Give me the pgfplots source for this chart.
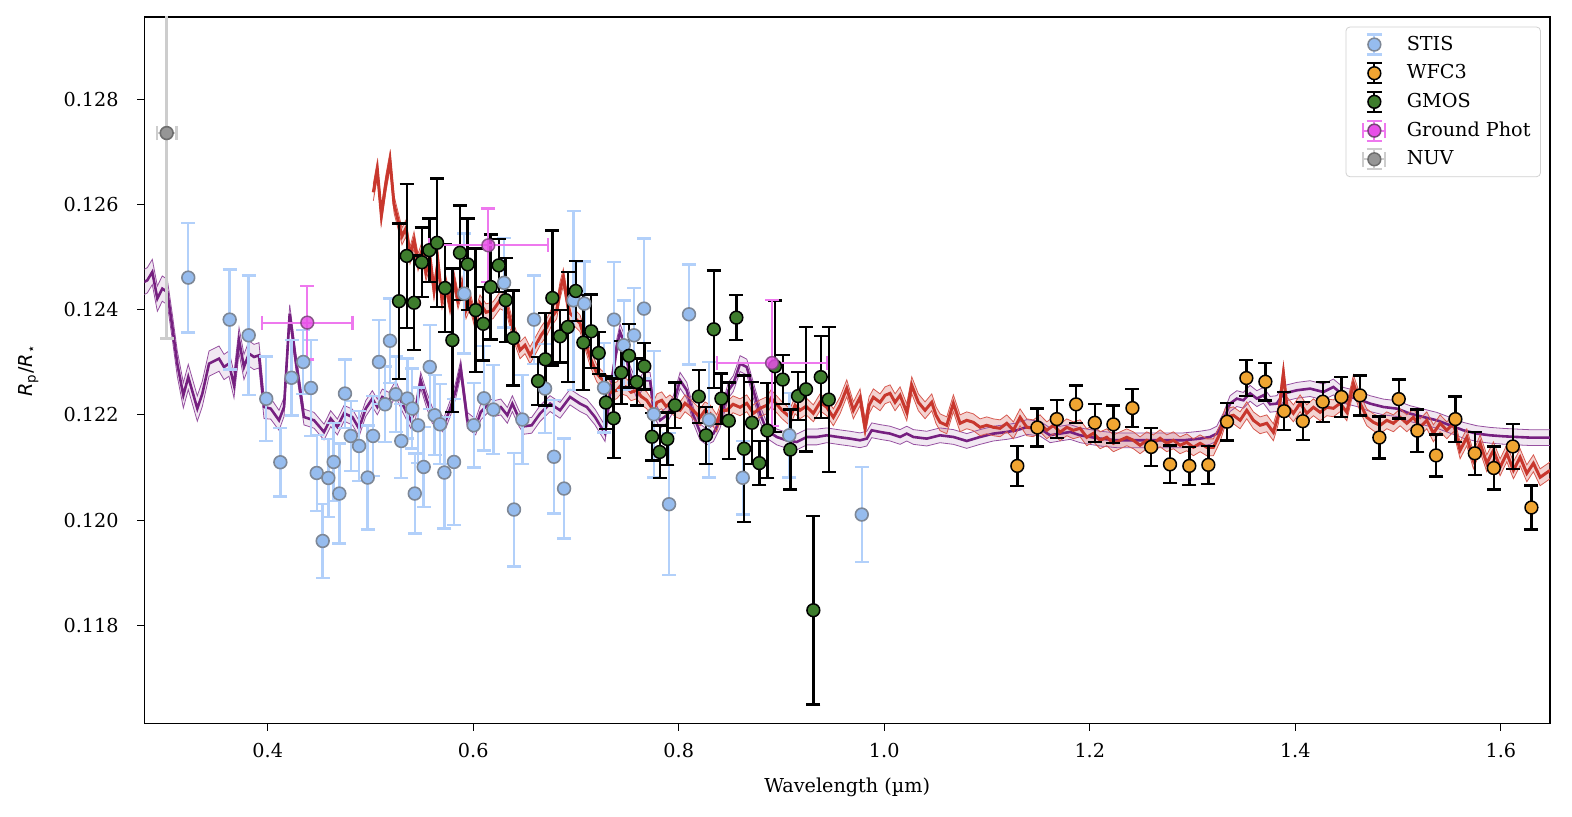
\documentclass[border=0pt]{standalone}
\usepackage{pgfplots}
\pgfplotsset{compat=1.18}
\usepackage{pgfplotstable}
\usepgfplotslibrary{fillbetween}
\usepackage{fontspec}
\setmainfont{DejaVu Serif}
\newfontfamily\dvsans{DejaVu Sans}

\definecolor{stisfill}{RGB}{150,188,238}
\definecolor{stisedge}{RGB}{125,135,150}
\definecolor{stisbar}{RGB}{178,208,250}
\definecolor{wfcfill}{RGB}{240,165,50}
\definecolor{gmosfill}{RGB}{62,125,45}
\definecolor{gpfill}{RGB}{232,80,232}
\definecolor{gpbar}{RGB}{238,120,238}
\definecolor{gpedge}{RGB}{120,70,120}
\definecolor{nuvfill}{RGB}{150,150,150}
\definecolor{nuvbar}{RGB}{205,205,205}
\definecolor{nuvedge}{RGB}{110,110,110}
\definecolor{purp}{RGB}{118,32,128}
\definecolor{purpedge}{RGB}{150,80,160}
\definecolor{redm}{RGB}{200,55,45}
\definecolor{rededge}{RGB}{215,90,80}

\pgfplotsset{
  errlegend/.style n args={3}{legend image code/.code={
    \path (0pt,0pt) (25pt,0pt);
    \draw[#2, line width=1.1pt] (11pt,-5pt) -- (11pt,5pt) (7.3pt,-5pt) -- (14.7pt,-5pt) (7.3pt,5pt) -- (14.7pt,5pt);
    \draw[#3, fill=#1, line width=0.75pt] (11pt,0pt) circle (3.2pt);
  }},
  errlegendx/.style n args={3}{legend image code/.code={
    \path (0pt,0pt) (25pt,0pt);
    \draw[#2, line width=1.1pt] (11pt,-5pt) -- (11pt,5pt) (7.3pt,-5pt) -- (14.7pt,-5pt) (7.3pt,5pt) -- (14.7pt,5pt)
      (5.5pt,0pt) -- (16.5pt,0pt) (5.5pt,-3.7pt) -- (5.5pt,3.7pt) (16.5pt,-3.7pt) -- (16.5pt,3.7pt);
    \draw[#3, fill=#1, line width=0.75pt] (11pt,0pt) circle (3.2pt);
  }},
}

\pgfplotstableread{
x y e
0.3227 0.124608 0.00104
0.3630 0.123810 0.00095
0.3815 0.123512 0.00114
0.3986 0.122306 0.00080
0.4123 0.121100 0.00065
0.4232 0.122705 0.00072
0.4346 0.123005 0.00061
0.4421 0.122511 0.00091
0.4477 0.120896 0.00072
0.4535 0.119604 0.00070
0.4590 0.120801 0.00074
0.4642 0.121105 0.00074
0.4697 0.120505 0.00095
0.4752 0.122405 0.00065
0.4808 0.121599 0.00066
0.4889 0.121409 0.00066
0.4973 0.120809 0.00099
0.5025 0.121599 0.00076
0.5083 0.123005 0.00080
0.5142 0.122201 0.00072
0.5190 0.123408 0.00080
0.5246 0.122391 0.00072
0.5300 0.121504 0.00070
0.5359 0.122310 0.00076
0.5407 0.122120 0.00076
0.5431 0.120505 0.00076
0.5463 0.121802 0.00072
0.5518 0.121010 0.00076
0.5577 0.122910 0.00080
0.5625 0.121992 0.00076
0.5677 0.121821 0.00076
0.5719 0.120904 0.00106
0.5813 0.121105 0.00120
0.5913 0.124304 0.00114
0.6005 0.121802 0.00080
0.6105 0.122315 0.00099
0.6196 0.122101 0.00085
0.6300 0.124509 0.00085
0.6397 0.120201 0.00108
0.6478 0.121911 0.00085
0.6592 0.123810 0.00084
0.6699 0.122500 0.00085
0.6786 0.121204 0.00108
0.6884 0.120600 0.00095
0.6976 0.124177 0.00170
0.7081 0.124114 0.00080
0.7273 0.122515 0.00085
0.7370 0.123810 0.00110
0.7465 0.123322 0.00085
0.7565 0.123512 0.00090
0.7662 0.124019 0.00133
0.7757 0.122011 0.00120
0.7906 0.120302 0.00135
0.8100 0.123911 0.00095
0.8295 0.121907 0.00110
0.8623 0.120805 0.00070
0.9076 0.121612 0.00080
0.9781 0.120106 0.00090
}\stis

\pgfplotstableread{
x y e
1.1295 0.12103 0.00038
1.1490 0.12176 0.00036
1.1679 0.12192 0.00036
1.1867 0.12220 0.00036
1.2049 0.12185 0.00036
1.2230 0.12182 0.00036
1.2415 0.12213 0.00036
1.2597 0.12139 0.00036
1.2781 0.12106 0.00036
1.2969 0.12103 0.00036
1.3154 0.12105 0.00036
1.3336 0.12187 0.00036
1.3524 0.12270 0.00034
1.3709 0.12263 0.00036
1.3891 0.12207 0.00036
1.4073 0.12188 0.00036
1.4267 0.12225 0.00038
1.4449 0.12234 0.00038
1.4630 0.12237 0.00038
1.4818 0.12157 0.00040
1.5007 0.12230 0.00037
1.5188 0.12170 0.00040
1.5370 0.12123 0.00040
1.5558 0.12192 0.00043
1.5747 0.12127 0.00041
1.5932 0.12099 0.00041
1.6117 0.12140 0.00043
1.6298 0.12024 0.00042
}\wfc

\pgfplotstableread{
x y e
0.5278 0.12416 0.00148
0.5353 0.12502 0.00137
0.5424 0.12413 0.00090
0.5499 0.12490 0.00066
0.5573 0.12513 0.00060
0.5648 0.12527 0.00122
0.5726 0.12441 0.00084
0.5797 0.12342 0.00136
0.5871 0.12508 0.00090
0.5946 0.12486 0.00087
0.6024 0.12399 0.00117
0.6098 0.12373 0.00070
0.6170 0.12443 0.00100
0.6248 0.12484 0.00050
0.6316 0.12418 0.00080
0.6390 0.12346 0.00090
0.6631 0.122644 0.00046
0.6702 0.123056 0.00088
0.6770 0.124221 0.00128
0.6845 0.123493 0.00050
0.6920 0.123670 0.00105
0.6998 0.124354 0.00057
0.7072 0.123373 0.00090
0.7149 0.123588 0.00070
0.7221 0.123176 0.00040
0.7292 0.122234 0.00050
0.7367 0.121935 0.00076
0.7441 0.122804 0.00060
0.7516 0.123123 0.00060
0.7591 0.122625 0.00045
0.7665 0.122923 0.00044
0.7740 0.121584 0.00045
0.7815 0.121295 0.00050
0.7889 0.121542 0.00050
0.7964 0.122182 0.00043
0.8195 0.122348 0.00050
0.8266 0.121612 0.00054
0.8341 0.123626 0.00112
0.8415 0.122310 0.00048
0.8487 0.121888 0.00073
0.8561 0.123848 0.00043
0.8636 0.121356 0.00139
0.8713 0.121850 0.00078
0.8784 0.121084 0.00042
0.8862 0.121704 0.00090
0.8937 0.122923 0.00125
0.9012 0.122671 0.00047
0.9086 0.121341 0.00076
0.9161 0.122357 0.00046
0.9239 0.122486 0.00118
0.9310 0.118288 0.00179
0.9382 0.122718 0.00078
0.9460 0.122291 0.00138
}\gmos

\pgfplotstableread{
x y xe ye
0.4385 0.123753 0.0440 0.00070
0.6147 0.125222 0.0580 0.00070
0.8908 0.122986 0.0535 0.00120
}\ground

\pgfplotstableread{
x y xe ye
0.3017 0.127355 0.0094 0.0039
}\nuv

\pgfplotstableread{
x y e
0.2796 0.124525 0.00024
0.2828 0.124557 0.00024
0.2877 0.124715 0.00024
0.2926 0.124209 0.00024
0.2974 0.124399 0.00024
0.3023 0.124335 0.00024
0.3072 0.123670 0.00024
0.3120 0.122974 0.00024
0.3179 0.122372 0.00024
0.3227 0.122720 0.00024
0.3315 0.122119 0.00024
0.3364 0.122404 0.00024
0.3429 0.122974 0.00024
0.3526 0.123069 0.00024
0.3575 0.122910 0.00024
0.3623 0.122974 0.00024
0.3672 0.122562 0.00024
0.3721 0.123417 0.00024
0.3769 0.122910 0.00024
0.3818 0.123164 0.00024
0.3867 0.123100 0.00024
0.3915 0.123132 0.00024
0.3964 0.122150 0.00022
0.4029 0.122119 0.00020
0.4110 0.121897 0.00019
0.4159 0.122150 0.00018
0.4214 0.123923 0.00017
0.4273 0.123036 0.00016
0.4353 0.121959 0.00015
0.4451 0.121897 0.00015
0.4548 0.121674 0.00015
0.4613 0.121929 0.00015
0.4678 0.121770 0.00015
0.4743 0.122030 0.00015
0.4824 0.121959 0.00015
0.4889 0.121739 0.00015
0.4954 0.122119 0.00015
0.5018 0.122309 0.00015
0.5067 0.122150 0.00015
0.5115 0.122340 0.00015
0.5180 0.122277 0.00015
0.5246 0.122499 0.00015
0.5310 0.122214 0.00015
0.5392 0.121897 0.00015
0.5440 0.122087 0.00015
0.5489 0.122657 0.00015
0.5548 0.122277 0.00015
0.5602 0.121992 0.00015
0.5667 0.121897 0.00015
0.5716 0.121802 0.00015
0.5781 0.122150 0.00015
0.5830 0.122467 0.00015
0.5878 0.122885 0.00015
0.5943 0.121897 0.00015
0.6024 0.121770 0.00015
0.6073 0.122055 0.00015
0.6137 0.122182 0.00015
0.6203 0.122119 0.00015
0.6268 0.122150 0.00015
0.6332 0.121992 0.00015
0.6381 0.122214 0.00015
0.6446 0.121929 0.00015
0.6495 0.121783 0.00015
0.6569 0.121802 0.00015
0.6650 0.122024 0.00015
0.6748 0.122214 0.00015
0.6845 0.122087 0.00015
0.6942 0.122340 0.00015
0.7039 0.122214 0.00015
0.7105 0.122150 0.00015
0.7185 0.121959 0.00015
0.7283 0.121644 0.00015
0.7331 0.122404 0.00015
0.7397 0.123290 0.00015
0.7429 0.123575 0.00015
0.7461 0.123417 0.00015
0.7526 0.122784 0.00015
0.7592 0.122467 0.00015
0.7656 0.122657 0.00015
0.7721 0.122657 0.00015
0.7753 0.122150 0.00015
0.7818 0.121897 0.00015
0.7883 0.121992 0.00015
0.7948 0.122214 0.00015
0.8013 0.122657 0.00015
0.8078 0.122467 0.00015
0.8142 0.121992 0.00015
0.8207 0.121675 0.00015
0.8273 0.121580 0.00015
0.8337 0.121644 0.00015
0.8402 0.121897 0.00015
0.8483 0.122467 0.00015
0.8531 0.122594 0.00015
0.8597 0.122974 0.00015
0.8662 0.122910 0.00015
0.8726 0.122467 0.00015
0.8791 0.122024 0.00015
0.8856 0.121707 0.00015
0.8954 0.121580 0.00015
0.9051 0.121517 0.00015
0.9148 0.121485 0.00015
0.9246 0.121580 0.00015
0.9343 0.121580 0.00015
0.9440 0.121612 0.00014
0.9570 0.121574 0.00014
0.9667 0.121549 0.00014
0.9764 0.121517 0.00014
0.9830 0.121549 0.00014
0.9878 0.121707 0.00014
0.9959 0.121675 0.00014
1.0057 0.121644 0.00014
1.0154 0.121580 0.00014
1.0219 0.121644 0.00014
1.0283 0.121580 0.00014
1.0413 0.121549 0.00014
1.0543 0.121612 0.00014
1.0673 0.121580 0.00014
1.0803 0.121504 0.00014
1.0932 0.121580 0.00014
1.1062 0.121644 0.00014
1.1192 0.121675 0.00014
1.1289 0.121707 0.00014
1.1387 0.121770 0.00014
1.1516 0.121739 0.00014
1.1614 0.121612 0.00014
1.1711 0.121644 0.00014
1.1808 0.121675 0.00014
1.1906 0.121612 0.00014
1.2003 0.121580 0.00014
1.2100 0.121549 0.00014
1.2263 0.121517 0.00014
1.2424 0.121517 0.00014
1.2587 0.121517 0.00014
1.2749 0.121517 0.00014
1.2911 0.121517 0.00014
1.3073 0.121549 0.00014
1.3171 0.121580 0.00014
1.3236 0.121644 0.00014
1.3301 0.121897 0.00014
1.3365 0.122214 0.00015
1.3431 0.122309 0.00015
1.3495 0.122277 0.00015
1.3560 0.122410 0.00015
1.3626 0.122309 0.00015
1.3690 0.122372 0.00015
1.3755 0.122201 0.00015
1.3820 0.122214 0.00015
1.3885 0.122404 0.00015
1.4015 0.122467 0.00015
1.4144 0.122499 0.00015
1.4274 0.122435 0.00015
1.4371 0.122530 0.00015
1.4468 0.122372 0.00015
1.4599 0.122309 0.00015
1.4728 0.122214 0.00015
1.4857 0.122150 0.00015
1.4988 0.122119 0.00015
1.5117 0.122024 0.00015
1.5247 0.121960 0.00015
1.5377 0.121897 0.00015
1.5507 0.121802 0.00015
1.5636 0.121707 0.00015
1.5766 0.121644 0.00015
1.5896 0.121612 0.00015
1.6025 0.121593 0.00015
1.6156 0.121580 0.00015
1.6285 0.121568 0.00015
1.6480 0.121568 0.00015
}\purple

\pgfplotstableread{
x y
0.50278 0.126229
0.50667 0.126666
0.51057 0.125792
0.51485 0.126381
0.51903 0.126836
0.52292 0.126001
0.52682 0.125697
0.53071 0.125393
0.53460 0.125545
0.53850 0.125032
0.54239 0.125317
0.54628 0.124899
0.55017 0.125127
0.55406 0.124709
0.55796 0.124975
0.56185 0.124367
0.56574 0.124899
0.56963 0.124177
0.57353 0.124462
0.57742 0.124082
0.58131 0.124557
0.58520 0.124177
0.58910 0.124462
0.59299 0.123987
0.59688 0.124177
0.60175 0.123797
0.60661 0.124120
0.61245 0.123949
0.61926 0.123987
0.62609 0.124177
0.63193 0.124120
0.63874 0.123607
0.64555 0.123227
0.65042 0.123322
0.65529 0.123132
0.66181 0.123360
0.66599 0.123512
0.67154 0.123664
0.67572 0.123835
0.68127 0.123987
0.68448 0.124367
0.68769 0.124614
0.69130 0.124177
0.69422 0.123930
0.69908 0.123835
0.70395 0.123740
0.70882 0.123417
0.71368 0.123094
0.72020 0.122790
0.72438 0.122695
0.72993 0.122600
0.73411 0.122429
0.73966 0.122467
0.74384 0.122562
0.74939 0.122524
0.75357 0.122429
0.75912 0.122467
0.76330 0.122353
0.76885 0.122277
0.77527 0.122087
0.77887 0.122239
0.78345 0.122277
0.78763 0.122163
0.79154 0.122220
0.79641 0.122125
0.80127 0.122087
0.80614 0.122220
0.81101 0.122144
0.81587 0.122049
0.82074 0.121954
0.82561 0.122087
0.83047 0.122030
0.83699 0.121840
0.84118 0.122087
0.84672 0.122087
0.85286 0.122201
0.85967 0.122144
0.86619 0.122220
0.87261 0.122030
0.87913 0.122125
0.88565 0.122182
0.88983 0.122315
0.89538 0.122201
0.90054 0.122087
0.90833 0.121954
0.91319 0.122182
0.91806 0.122087
0.92390 0.122163
0.93100 0.122030
0.93753 0.122239
0.94405 0.122144
0.95047 0.121954
0.95699 0.122182
0.96351 0.122505
0.96994 0.122087
0.97646 0.122334
0.98132 0.121764
0.98522 0.122182
0.98940 0.122334
0.99592 0.122239
1.00079 0.122372
1.00565 0.122410
1.01052 0.122239
1.01539 0.122372
1.02191 0.122049
1.02677 0.122562
1.03320 0.122239
1.03972 0.122087
1.04624 0.122239
1.05042 0.121992
1.05432 0.121859
1.06084 0.121802
1.06726 0.122220
1.07378 0.121840
1.08030 0.121897
1.08672 0.121859
1.09325 0.121764
1.09977 0.121802
1.10619 0.121764
1.11271 0.121745
1.11923 0.121840
1.12566 0.121707
1.13217 0.121954
1.13870 0.121764
1.14512 0.121745
1.15164 0.121840
1.15816 0.121707
1.16458 0.121802
1.17110 0.121669
1.17763 0.121764
1.18405 0.121707
1.19057 0.121745
1.19709 0.121574
1.20351 0.121650
1.21003 0.121517
1.21655 0.121574
1.22298 0.121460
1.22950 0.121517
1.23602 0.121574
1.24244 0.121517
1.24896 0.121422
1.25548 0.121517
1.26191 0.121460
1.26843 0.121555
1.27495 0.121460
1.28137 0.121517
1.28789 0.121422
1.29441 0.121479
1.30084 0.121384
1.30736 0.121460
1.31388 0.121384
1.32030 0.121384
1.32682 0.121650
1.33169 0.121954
1.33977 0.121992
1.34629 0.121897
1.35281 0.122087
1.35923 0.121897
1.36575 0.121802
1.37227 0.121840
1.37870 0.121669
1.38356 0.121992
1.38843 0.122790
1.39174 0.122182
1.39816 0.122030
1.40468 0.122220
1.41120 0.122030
1.41763 0.122144
1.42415 0.122049
1.43067 0.122144
1.43709 0.122125
1.44361 0.122220
1.45013 0.122049
1.45656 0.122600
1.46308 0.122220
1.46960 0.121954
1.47602 0.121859
1.48254 0.121802
1.48906 0.121897
1.49549 0.121840
1.50201 0.121954
1.50853 0.121840
1.51495 0.121954
1.52147 0.121764
1.52799 0.121897
1.53442 0.121650
1.54094 0.121840
1.54746 0.121707
1.55388 0.121840
1.56040 0.121327
1.56692 0.121574
1.57335 0.121137
1.57987 0.121460
1.58639 0.121080
1.59281 0.121327
1.59933 0.121004
1.60585 0.121270
1.61228 0.120947
1.61880 0.121194
1.62532 0.120890
1.63174 0.121080
1.63826 0.120814
1.64800 0.120947
}\redmodel

\begin{document}
\fontsize{9.6}{11.5}\selectfont
\begin{tikzpicture}
\begin{axis}[
  scale only axis, width=702.75pt, height=353.4pt,
  xmin=0.280, xmax=1.6478, ymin=0.11613, ymax=0.12956,
  xtick={0.4,0.6,0.8,1.0,1.2,1.4,1.6},
  ytick={0.118,0.120,0.122,0.124,0.126,0.128},
  scaled x ticks=false, scaled y ticks=false,
  x tick label style={/pgf/number format/.cd, fixed, fixed zerofill, precision=1, assume math mode=true, /tikz/.cd, yshift=-3pt},
  y tick label style={/pgf/number format/.cd, fixed, fixed zerofill, precision=3, assume math mode=true, /tikz/.cd, xshift=-6pt},
  tick label style={font=\fontsize{9.6}{11.5}\selectfont},
  label style={font=\fontsize{9.6}{11.5}\selectfont},
  tick align=outside, tick pos=left, major tick length=3.5pt,
  every tick/.style={black, line width=0.6pt},
  axis line style={line width=0.6pt},
  xlabel={Wavelength (µm)},
  xlabel style={at={(axis description cs:0.5,-0.0903)}, anchor=center},
  ylabel={{\dvsans\textit{R}\textsubscript{p}/\textit{R}\textsubscript{⋆}}},
  ylabel style={at={(axis description cs:-0.0825,0.5)}, anchor=center},
  legend style={at={(1,1)}, anchor=north east, xshift=-4.5pt, yshift=-4.8pt,
    draw=black!18, rounded corners=2pt, fill=white,
    font=\fontsize{9.6}{11.5}\selectfont, legend cell align=left,
    inner xsep=3pt, inner ysep=2.5pt, row sep=1.75pt},
]
% purple model band
\addplot[draw=none, name path=pu, forget plot] table[x=x, y expr=\thisrow{y}+\thisrow{e}] {\purple};
\addplot[draw=none, name path=pl, forget plot] table[x=x, y expr=\thisrow{y}-\thisrow{e}] {\purple};
\addplot[fill=purp, fill opacity=0.1, forget plot] fill between[of=pu and pl];
\addplot[purpedge, line width=0.4pt, forget plot] table[x=x, y expr=\thisrow{y}+\thisrow{e}] {\purple};
\addplot[purpedge, line width=0.4pt, forget plot] table[x=x, y expr=\thisrow{y}-\thisrow{e}] {\purple};
\addplot[purp, line width=1.3pt, forget plot] table[x=x, y=y] {\purple};
% red model band
\addplot[draw=none, name path=ru, forget plot] table[x=x, y expr=\thisrow{y}+0.00016] {\redmodel};
\addplot[draw=none, name path=rl, forget plot] table[x=x, y expr=\thisrow{y}-0.00016] {\redmodel};
\addplot[fill=redm, fill opacity=0.22, forget plot] fill between[of=ru and rl];
\addplot[rededge, line width=0.4pt, forget plot] table[x=x, y expr=\thisrow{y}+0.00016] {\redmodel};
\addplot[rededge, line width=0.4pt, forget plot] table[x=x, y expr=\thisrow{y}-0.00016] {\redmodel};
\addplot[redm, line width=1.5pt, forget plot] table[x=x, y=y] {\redmodel};

% STIS
\addplot[only marks, mark=*, mark size=3.2pt,
  mark options={fill=stisfill, draw=stisedge, line width=0.8pt},
  errlegend={stisfill}{stisbar}{stisedge},
  error bars/.cd, y dir=both, y explicit,
  error bar style={stisbar, line width=1.2pt},
  error mark options={rotate=90, mark size=3.5pt, stisbar, line width=1.2pt}]
  table[x=x, y=y, y error=e] {\stis};
\addlegendentry{STIS}
% WFC3
\addplot[only marks, mark=*, mark size=3.2pt,
  mark options={fill=wfcfill, draw=black, line width=0.75pt},
  errlegend={wfcfill}{black}{black},
  error bars/.cd, y dir=both, y explicit,
  error bar style={black, line width=1.2pt},
  error mark options={rotate=90, mark size=3.5pt, black, line width=1.2pt}]
  table[x=x, y=y, y error=e] {\wfc};
\addlegendentry{WFC3}
% GMOS
\addplot[only marks, mark=*, mark size=3.2pt,
  mark options={fill=gmosfill, draw=black, line width=0.75pt},
  errlegend={gmosfill}{black}{black},
  error bars/.cd, y dir=both, y explicit,
  error bar style={black, line width=1.2pt},
  error mark options={rotate=90, mark size=3.5pt, black, line width=1.2pt}]
  table[x=x, y=y, y error=e] {\gmos};
\addlegendentry{GMOS}
% Ground Phot
\addplot[only marks, mark=*, mark size=3.2pt,
  mark options={fill=gpfill, draw=gpedge, line width=0.75pt, opacity=0.85},
  errlegendx={gpfill}{gpbar}{gpedge},
  error bars/.cd, y dir=both, y explicit, x dir=both, x explicit,
  error bar style={gpbar, line width=1.1pt},
  error mark options={rotate=90, mark size=3.5pt, gpbar, line width=1.1pt}]
  table[x=x, y=y, x error=xe, y error=ye] {\ground};
\addlegendentry{Ground Phot}
% NUV
\addplot[only marks, mark=*, mark size=3.2pt,
  mark options={fill=nuvfill, draw=nuvedge, line width=0.8pt},
  errlegendx={nuvfill}{nuvbar}{nuvedge},
  error bars/.cd, y dir=both, y explicit, x dir=both, x explicit,
  error bar style={nuvbar, line width=1.3pt},
  error mark options={rotate=90, mark size=3.5pt, nuvbar, line width=1.3pt}]
  table[x=x, y=y, x error=xe, y error=ye] {\nuv};
\addlegendentry{NUV}
\end{axis}
\pgfresetboundingbox
\path ([xshift=-72.2pt,yshift=-46.1pt]current axis.south west) rectangle ([xshift=11.05pt,yshift=8.5pt]current axis.north east);
\end{tikzpicture}
\end{document}
